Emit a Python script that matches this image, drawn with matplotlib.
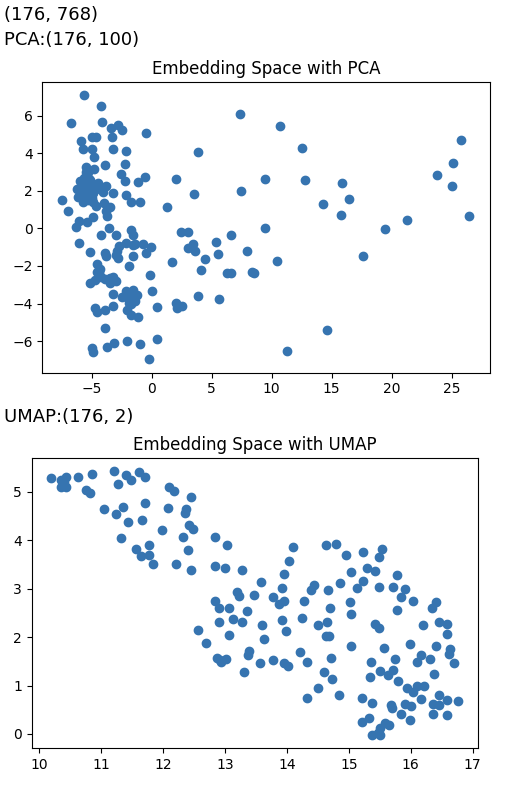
import matplotlib.pyplot as plt

# notebook output lines printed above the plots
shape_text = '(176, 768)'
pca_text = 'PCA:(176, 100)'
umap_text = 'UMAP:(176, 2)'

# PCA embedding, first two components
pca_x = [-5.64, -6.67, -4.22, -4.11, -5.89, -5.0, -4.64, -5.69, -5.0, -4.78,
         -3.39, -2.78, -2.44, -3.33, -0.47, -3.25, -2.14, -3.89, -2.22, -5.47,
         -5.28, -4.81, -2.58, -2.22, -0.56, -1.14, 2.03, 3.89, 7.36, 7.42,
         3.56, 1.25, -7.47, -7.0, -6.31, -6.03, -5.97, -5.61, -5.36, -5.14,
         -6.25, -5.83, -5.42, -5.0, -6.11, -5.69, -5.36, -4.72, -4.31, -3.81,
         -4.03, -5.75, -4.86, -4.64, -3.97, -3.47, -3.81, -3.69, -3.25, -2.14,
         -1.67, -0.92, -4.86, -5.36, -3.53, -1.67,
         -6.03, -5.14, -4.22, -2.97, -3.86, -3.81, -2.86, -2.78, -2.72, -2.14,
         -1.86, -1.53, -1.58, -1.39, -1.53, -0.69, -0.42, -0.08, -0.14, 0.0,
         0.44, 0.42, -0.22, -0.97, -2.03, -3.14, -3.69, -5.0, -4.86, -3.86,
         -4.72, -4.53, -3.89, -3.19, -3.25, -2.5, -2.14, -1.53, -1.25, -1.39,
         -1.86, -2.03, -1.67, -1.11, -1.75, -4.58, -4.58, -4.31, -4.17, -4.72,
         -5.14, -3.89, -3.47, -3.19, -2.92, -3.47, 1.67, 2.44, 3.0, 3.06,
         3.42, 3.61, 4.44, 4.11, 3.89, 2.08, 2.58, 2.14, 5.36, 5.56,
         5.64, 6.58, 6.25, 6.61, 7.92, 8.53,
         10.69, 12.55, 9.44, 12.8, 15.91, 16.47, 14.25, 15.8, 23.8, 25.14,
         25.8, 25.0, 26.47, 21.25, 9.44, 19.44,
         10.47, 8.4, 17.58, 14.66, 11.25,
         -5.5, -5.2, -5.6, -4.9, -5.9, -5.3, -4.5, -5.5, -2.0, -1.6,
         -4.4, -3.0, -5.0]
pca_y = [7.09, 5.62, 6.52, 5.67, 4.63, 4.84, 4.84, 4.2, 4.2, 3.78,
         5.35, 5.49, 5.23, 4.87, 5.1, 4.2, 4.11, 3.35, 3.42, 3.24,
         3.01, 3.14, 2.89, 2.51, 2.74, 2.48, 2.64, 4.04, 6.11, 2.0,
         1.83, 1.15, 1.49, 0.94, 0.07, 0.41, 2.54, 2.66, 2.84, 2.57,
         2.12, 2.21, 2.25, 2.3, 1.68, 1.74, 1.95, 2.12, 2.12, 2.25,
         1.95, 1.42, 1.42, 1.19, 1.36, 1.15, 0.94, 0.67, 1.9, 1.77,
         1.42, 1.42, 0.62, 0.32, 0.0, -0.09,
         -0.76, -1.28, -0.36, -0.36, -1.33, -1.47, -1.19, -1.6, -0.94, -0.76,
         -1.99, -0.36, -0.89, -0.83, -1.47, -0.83, -1.33, -1.01, -2.48, -3.34,
         -4.2, -5.89, -6.95, -6.17, -5.98, -6.08, -6.33, -6.38, -6.56, -5.32,
         -4.26, -4.43, -4.35, -4.13, -3.5, -3.64, -3.32, -3.28, -3.55, -3.85,
         -3.96, -4.35, -4.61, -4.74, -4.03, -2.31, -1.92, -2.18, -2.57, -2.75,
         -2.89, -2.71, -2.89, -2.57, -2.8, -2.66, -1.77, -0.21, -0.21, -1.07,
         -0.84, -1.19, -1.63, -2.22, -3.6, -3.96, -4.13, -4.26, -0.71, -1.37,
         -3.76, -0.36, -2.36, -2.36, -1.21, -2.4,
         5.44, 4.25, 2.62, 2.55, 2.39, 1.56, 1.27, 0.71, 2.84, 3.46,
         4.68, 2.27, 0.65, 0.42, 0.03, -0.04,
         -1.72, -2.33, -1.47, -5.41, -6.53,
         2.0, 2.6, 1.9, 1.9, 1.9, 1.5, 2.4, 3.0, -3.7, -3.6,
         -2.3, -1.4, 1.6]

# UMAP embedding (2 dims)
umap_x = [10.2, 10.36, 10.44, 10.39, 10.36, 10.44, 10.63, 10.85, 10.75, 10.82,
          11.21, 11.4, 11.49, 11.28, 11.62, 11.71, 11.05, 11.24, 11.35, 11.43,
          11.71, 11.66, 11.32, 11.56, 11.65, 11.77, 11.77, 11.84, 11.99, 12.08,
          12.1, 12.18, 12.37, 12.36, 12.45, 12.42, 12.49, 12.33, 12.41, 12.21,
          12.46, 12.84, 13.03, 12.84, 13.0, 13.28,
          14.1, 14.63, 14.8, 14.04, 13.96, 13.59, 13.92, 14.43, 14.39, 14.67,
          14.86, 14.95, 15.04, 15.14, 15.23, 15.23, 15.3, 15.42, 15.49, 15.54,
          15.49, 15.71, 15.77, 15.91,
          13.47, 13.77, 13.88, 13.96, 14.28, 14.69, 15.02, 15.04,
          15.85, 16.04, 15.77, 16.34, 16.4, 16.45, 16.58, 16.59, 16.2, 15.42,
          15.49, 15.99, 16.4, 16.63, 16.61, 16.7, 16.31, 16.16, 16.1, 16.37,
          15.56, 15.75, 15.36, 15.72, 15.51, 15.64, 15.34, 15.79, 15.94, 16.1,
          16.22, 16.04, 16.16, 16.45, 16.36, 16.45, 16.59, 16.77, 16.36, 16.59,
          15.9, 16.0, 15.68, 15.7, 15.84, 15.99, 15.21, 15.38, 15.32, 15.21,
          15.58, 15.65, 15.51, 15.47, 15.38, 15.51, 14.32, 14.5, 14.84, 14.6,
          14.73, 14.21, 14.32, 14.71, 15.03, 13.96, 14.02, 13.78, 13.57,
          13.63, 13.6, 13.92, 13.99, 14.24, 14.5, 14.65, 14.63, 14.68,
          12.84, 12.9, 13.07, 13.2, 13.23, 13.35, 13.13, 13.27, 12.9, 12.57,
          13.07, 12.69, 12.87, 12.94, 13.02, 13.39, 13.37, 13.31,
          10.4, 12.92]
umap_y = [5.29, 5.24, 5.3, 5.16, 5.1, 5.1, 5.31, 5.36, 5.03, 4.98,
          5.43, 5.34, 5.25, 5.15, 5.41, 5.31, 4.64, 4.54, 4.68, 4.38,
          4.76, 4.42, 4.05, 3.81, 3.68, 3.89, 3.7, 3.5, 4.21, 4.66,
          5.1, 5.01, 4.64, 4.57, 4.9, 4.31, 4.24, 4.06, 3.8, 3.5,
          3.38, 4.07, 3.91, 3.47, 3.42, 3.38,
          3.85, 3.91, 3.93, 3.56, 3.3, 3.14, 3.02, 3.07, 2.97, 2.98,
          3.11, 3.69, 3.34, 3.01, 3.75, 3.16, 3.43, 3.36, 3.66, 3.81,
          3.04, 3.03, 3.28, 2.99,
          2.87, 2.83, 2.68, 2.75, 2.75, 2.61, 2.73, 2.48,
          2.83, 2.75, 2.56, 2.59, 2.72, 2.32, 2.27, 2.06, 2.24, 2.27,
          2.18, 1.86, 1.82, 1.75, 1.66, 1.46, 1.55, 1.63, 1.49, 1.24,
          1.77, 1.55, 1.49, 1.33, 1.31, 1.22, 1.18, 1.1, 0.94, 0.99,
          0.99, 0.87, 0.72, 0.8, 0.61, 0.6, 0.7, 0.69, 0.41, 0.39,
          0.62, 0.58, 0.6, 0.53, 0.41, 0.28, 0.75, 0.63, 0.34, 0.25,
          0.23, 0.19, 0.13, 0.03, -0.02, -0.02, 0.75, 0.94, 0.8, 1.27,
          1.13, 1.69, 1.49, 1.57, 1.82, 1.47, 1.4, 1.53, 1.46,
          1.96, 2.24, 2.35, 2.13, 2.4, 2.24, 2.32, 2.02, 2.02,
          2.75, 2.59, 2.59, 2.92, 2.85, 2.54, 2.37, 2.32, 2.32, 2.15,
          2.04, 1.88, 1.57, 1.49, 1.54, 1.71, 1.63, 1.27,
          5.2, 1.52]

dot_color = '#3674b0'

fig = plt.figure(figsize=(5.21, 7.87), dpi=100)

# printed lines from the notebook cell
fig.text(0.008, 0.9746, shape_text, fontsize=13, va='baseline')
fig.text(0.008, 0.9428, pca_text, fontsize=13, va='baseline')
fig.text(0.008, 0.4633, umap_text, fontsize=13, va='baseline')

# PCA scatter
ax1 = fig.add_axes([0.0812, 0.5264, 0.8593, 0.369])
ax1.scatter(pca_x, pca_y, color=dot_color)
ax1.set_title('Embedding Space with PCA')
ax1.set_xlim(-9.1, 28.2)
ax1.set_ylim(-7.68, 7.77)

# UMAP scatter
ax2 = fig.add_axes([0.0608, 0.0492, 0.8572, 0.3685])
ax2.scatter(umap_x, umap_y, color=dot_color)
ax2.set_title('Embedding Space with UMAP')
ax2.set_xlim(9.88, 17.09)
ax2.set_ylim(-0.295, 5.69)

fig.savefig('out.png', dpi=100)
